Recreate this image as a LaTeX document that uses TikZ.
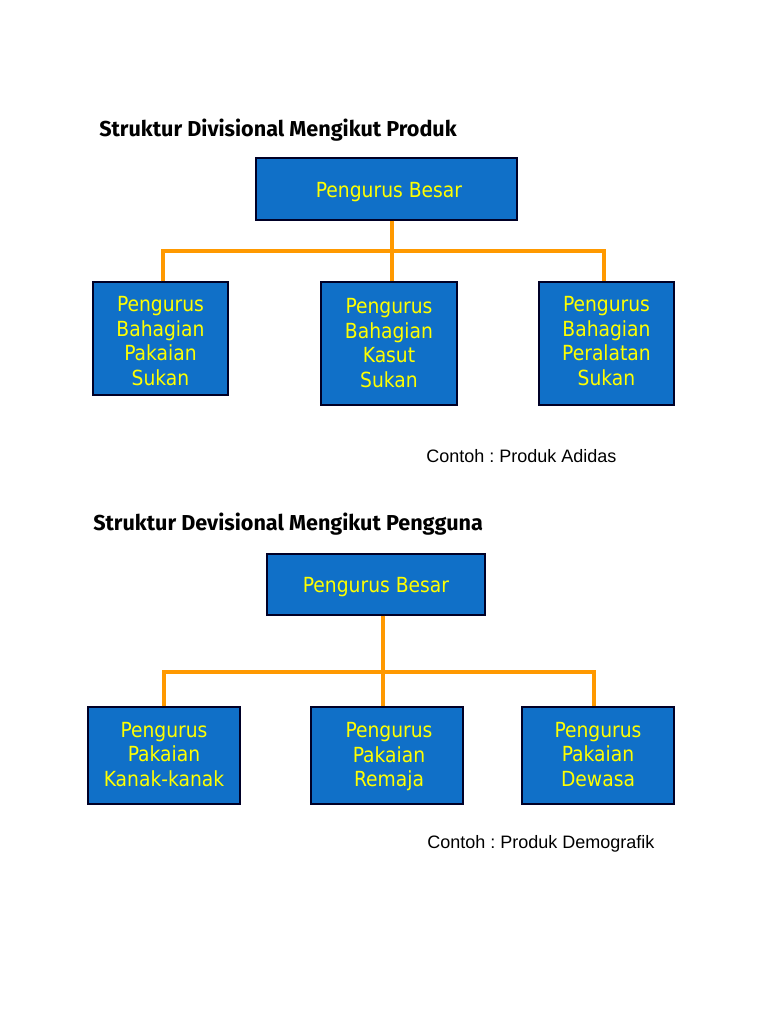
\documentclass[tikz,border=0pt]{standalone}
\usepackage{fontspec}
\setmainfont{DejaVu Sans Condensed}
\newfontfamily\titlefont{Fira Sans}
\newfontfamily\arialfont{Liberation Sans}
\definecolor{boxblue}{HTML}{1070C8}
\definecolor{linkorange}{HTML}{FF9900}
\definecolor{txtyellow}{HTML}{FFFF00}
\frenchspacing
\begin{document}
\frenchspacing
\begin{tikzpicture}[x=0.75pt,y=-0.75pt,
  orgbox/.style={draw=black!85!blue,line width=0.8pt,fill=boxblue,text=txtyellow,
    font=\fontsize{15.6}{18.4}\selectfont,align=center,inner sep=0pt},
  boxtext/.style={orgbox,fill=none,draw=none},
  link/.style={draw=linkorange,line width=2.3pt},
  titletext/.style={font=\titlefont\bfseries\fontsize{16.2}{18}\selectfont,anchor=west,inner sep=0pt},
  notetext/.style={font=\arialfont\fontsize{13.5}{15}\selectfont,anchor=west,inner sep=0pt}]
\useasboundingbox (0,0) rectangle (768,1024);
\fill[white] (0,0) rectangle (768,1024);

% ---------- first diagram ----------
\node[titletext] (t1) at (99,130) {Struktur Divisional Mengikut Produk};
\node[orgbox,minimum width=261*0.75pt,minimum height=62*0.75pt] (pb1) at (386.5,189) {};
\node[boxtext] (pb1t) at (389,192) {Pengurus Besar};
\node[orgbox,minimum width=135*0.75pt,minimum height=113*0.75pt] (a) at (160.5,338.5) {};
\node[orgbox,minimum width=136*0.75pt,minimum height=123*0.75pt] (b) at (389,343.5) {};
\node[orgbox,minimum width=135*0.75pt,minimum height=123*0.75pt] (c) at (606.5,343.5) {};
\node[boxtext] (at) at (160.5,341) {Pengurus\\Bahagian\\Pakaian\\Sukan};
\node[boxtext] (bt) at (389,343) {Pengurus\\Bahagian\\Kasut\\Sukan};
\node[boxtext] (ct) at (606.5,341) {Pengurus\\Bahagian\\Peralatan\\Sukan};
\coordinate (h1) at (392,251);
\draw[link] (pb1.south -| h1) -- (a.north -| h1);
\draw[link] (a.north -| 163,0) |- (h1) -| (c.north -| 604,0);
\node[notetext] (n1) at (426,456) {Contoh : Produk Adidas};

% ---------- second diagram ----------
\node[titletext] (t2) at (93,524) {Struktur Devisional Mengikut Pengguna};
\node[orgbox,minimum width=218*0.75pt,minimum height=61*0.75pt] (pb2) at (376,584.5) {};
\node[boxtext] (pb2t) at (376,587.5) {Pengurus Besar};
\node[orgbox,minimum width=152*0.75pt,minimum height=97*0.75pt] (d) at (164,755.5) {};
\node[orgbox,minimum width=152*0.75pt,minimum height=97*0.75pt] (e) at (387,755.5) {};
\node[orgbox,minimum width=152*0.75pt,minimum height=97*0.75pt] (f) at (598,755.5) {};
\node[boxtext] (dt) at (164,754.5) {Pengurus\\Pakaian\\Kanak-kanak};
\node[boxtext] (et) at (389,757) {Pengurus\\Pakaian\\Remaja};
\node[boxtext] (ft) at (598,754.5) {Pengurus\\Pakaian\\Dewasa};
\coordinate (h2) at (383,672);
\draw[link] (pb2.south -| h2) -- (e.north -| h2);
\draw[link] (d.north -| 164,0) |- (h2) -| (f.north -| 594,0);
\node[notetext] (n2) at (427,844) {Contoh : Produk Demografik};
\end{tikzpicture}
\end{document}
